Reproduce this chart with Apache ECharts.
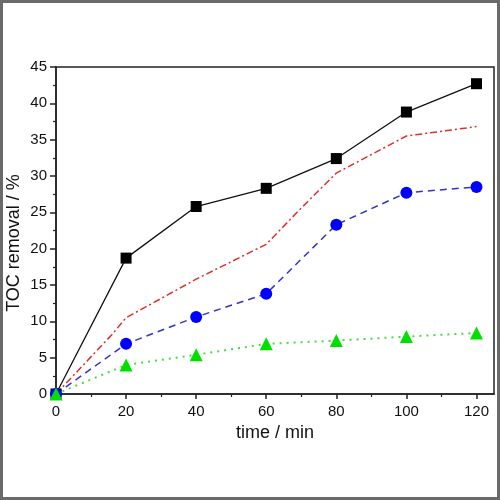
<!DOCTYPE html>
<html><head><meta charset="utf-8">
<script src="https://cdn.jsdelivr.net/npm/echarts@6/dist/echarts.min.js"></script>
<style>html,body{margin:0;padding:0;background:#fff}#c{width:500px;height:500px}</style>
</head><body><div id="c"></div>
<script>
const time = [0, 20, 40, 60, 80, 100, 120];
const seriesSquare = [0, 18.7, 25.8, 28.3, 32.4, 38.8, 42.7];
const seriesCircle = [0, 6.9, 10.6, 13.8, 23.3, 27.7, 28.5];
const seriesTriangle = [0, 4.0, 5.4, 6.9, 7.35, 7.9, 8.4];
const redTime = [0, 16, 20, 40, 60, 70, 80, 100, 120];
const redValues = [0, 8.2, 10.5, 15.8, 20.6, 25.6, 30.4, 35.5, 36.8];
const xMajorTicks = [0, 20, 40, 60, 80, 100, 120];
const xMinorTicks = [10, 30, 50, 70, 90, 110];

const pairs = (xs, ys) => xs.map((x, i) => [x, ys[i]]);
const axisColor = '#222';
const font = 'Liberation Sans, Arial, sans-serif';

const chart = echarts.init(document.getElementById('c'));
chart.setOption({
  animation: false,
  backgroundColor: '#fff',
  graphic: [{
    type: 'rect', silent: true, z: 100,
    shape: {x: 1.5, y: 1.5, width: 497, height: 497},
    style: {fill: 'none', stroke: '#6a6a6a', lineWidth: 3}
  }, {
    type: 'text', silent: true, x: 14, y: 243, rotation: Math.PI / 2,
    style: {text: 'TOC removal / %', fontFamily: font, fontSize: 18, fill: '#111', align: 'center', verticalAlign: 'middle'}
  }],
  grid: {left: 56, right: 6, top: 67, bottom: 106, outerBoundsMode: 'none', containLabel: false,
         show: true, borderColor: axisColor, borderWidth: 1.5, backgroundColor: 'transparent'},
  xAxis: [{
    type: 'value', min: 0, max: 125,
    name: 'time / min', nameLocation: 'middle', nameGap: 28,
    nameTextStyle: {fontFamily: font, fontSize: 18, color: '#111'},
    axisLine: {onZero: false, lineStyle: {color: axisColor, width: 1.5}},
    axisTick: {customValues: xMajorTicks, length: 5, lineStyle: {color: axisColor, width: 1.5}},
    axisLabel: {customValues: xMajorTicks, fontFamily: font, fontSize: 15, color: '#111', margin: 10},
    splitLine: {show: false}
  }, {
    type: 'value', min: 0, max: 125, position: 'bottom', gridIndex: 0,
    axisLine: {show: false},
    axisTick: {customValues: xMinorTicks, length: 3, lineStyle: {color: axisColor, width: 1.2}},
    axisLabel: {show: false},
    splitLine: {show: false}
  }],
  yAxis: {
    type: 'value', min: 0, max: 45, interval: 5,
    axisLine: {onZero: false, lineStyle: {color: axisColor, width: 1.5}},
    axisTick: {length: 6, lineStyle: {color: axisColor, width: 1.5}},
    minorTick: {show: true, splitNumber: 2, length: 3, lineStyle: {color: axisColor, width: 1.2}},
    axisLabel: {fontFamily: font, fontSize: 15, color: '#111', margin: 9},
    splitLine: {show: false}
  },
  series: [{
    type: 'line', data: pairs(time, seriesSquare),
    symbol: 'rect', symbolSize: 11,
    itemStyle: {color: '#000'},
    lineStyle: {color: '#111', width: 1.3, type: 'solid'}
  }, {
    type: 'line', data: pairs(redTime, redValues),
    symbol: 'none',
    lineStyle: {color: '#e0302a', width: 1.5, type: [7, 3, 2, 3]}
  }, {
    type: 'line', data: pairs(time, seriesCircle),
    symbol: 'circle', symbolSize: 12,
    itemStyle: {color: '#0000ff'},
    lineStyle: {color: '#3333cc', width: 1.5, type: [7, 5]}
  }, {
    type: 'line', data: pairs(time, seriesTriangle),
    symbol: 'triangle', symbolSize: 13,
    itemStyle: {color: '#00e000'},
    lineStyle: {color: '#44dd44', width: 2, type: [2, 5]}
  }]
});
</script></body></html>
